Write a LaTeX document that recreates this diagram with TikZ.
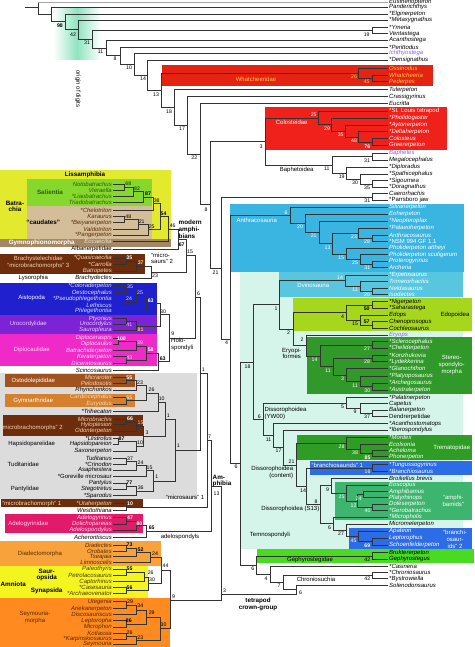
\documentclass[tikz,border=0pt]{standalone}
\usepackage{fontspec}
\setmainfont{Liberation Sans}
\usetikzlibrary{calc}
\definecolor{whr}{HTML}{E42312}
\definecolor{whtx}{HTML}{FFC445}
\definecolor{colr}{HTML}{F0201A}
\definecolor{anth}{HTML}{3AB5E2}
\definecolor{temno}{HTML}{D6F5EA}
\definecolor{dvino}{HTML}{58C6DE}
\definecolor{edop}{HTML}{A6D71C}
\definecolor{stereo}{HTML}{31992A}
\definecolor{trem}{HTML}{2F9C25}
\definecolor{branch}{HTML}{2C6CE6}
\definecolor{amphib}{HTML}{3EB56E}
\definecolor{geph}{HTML}{48DB22}
\definecolor{purp}{HTML}{8B5CF6}
\definecolor{lissa}{HTML}{E3EA2E}
\definecolor{salie}{HTML}{86D82C}
\definecolor{caud}{HTML}{D3BE99}
\definecolor{gymno}{HTML}{A48765}
\definecolor{dkbr}{HTML}{6D2D0D}
\definecolor{aist}{HTML}{2020CF}
\definecolor{uroc}{HTML}{7B23D5}
\definecolor{dipl}{HTML}{EF2AC8}
\definecolor{micro}{HTML}{DCDCDC}
\definecolor{osto}{HTML}{A1531F}
\definecolor{gymna}{HTML}{D5802C}
\definecolor{adelo}{HTML}{E31A6A}
\definecolor{diad}{HTML}{F7A23A}
\definecolor{amnio}{HTML}{F4F420}
\definecolor{seym}{HTML}{FF8A1F}
\definecolor{peach}{HTML}{F5D5B2}
\definecolor{digit}{HTML}{8EE4C0}
\definecolor{lblue}{HTML}{D9DAFF}
\definecolor{lpink}{HTML}{FFD3F2}
\definecolor{llil}{HTML}{EFC8FF}
\definecolor{brtx}{HTML}{5A2A05}
\definecolor{amtx}{HTML}{4A3C05}
\definecolor{saltx}{HTML}{2E5C12}
\definecolor{eoca}{HTML}{EDE2C8}
\definecolor{yel}{HTML}{F7CF3A}
\tikzset{
 br/.style={draw=black!80, line width=0.7pt},
 rt/.style={anchor=west, inner xsep=1.5pt, inner ysep=0.4pt, font=\fontsize{6}{6}\selectfont\itshape},
 lt/.style={anchor=east, inner xsep=1pt, inner ysep=0.4pt, font=\fontsize{6}{6}\selectfont\itshape},
 up/.style={font=\fontsize{6}{6}\selectfont\upshape},
 sv/.style={inner sep=0pt, font=\fontsize{5.2}{5}\selectfont},
 bsv/.style={font=\fontsize{5.2}{5}\selectfont\bfseries},
 grp/.style={inner sep=0pt, font=\fontsize{6}{6.6}\selectfont, align=center},
 bgrp/.style={inner sep=0pt, font=\fontsize{6.3}{6.8}\selectfont\bfseries, align=center},
}
\newcommand\taxR[4][]{\node[rt,#1] (#2) at (387.5,#3) {#4};}
\newcommand\taxL[4][]{\node[lt,#1] (#2) at (113,#3) {#4};}
\newcommand\inode[3]{\coordinate (#1) at (#2,#3);}
\newcommand\ed[3]{\draw[br] (#1) |- (#2) (#1) |- (#3);}
\newcommand\sval[4][]{\node[sv,#1] at (#2,#3) {#4};}
\begin{document}
\begin{tikzpicture}[x=1pt,y=-1pt]
\useasboundingbox (0,0) rectangle (474,647);
% ---------- background boxes ----------
\shade[left color=white, right color=white, middle color=digit] (53,9) rectangle (101,60);
\fill[whr] (161.7,65) rectangle (432.7,86);
\fill[colr] (265,107.3) rectangle (446.7,150);
\fill[anth] (230,204.3) rectangle (464,271.7);
\fill[temno] (240,271.7) rectangle (463.3,549.3);
\fill[dvino] (279.3,271.7) rectangle (463.3,296.7);
\fill[edop] (293.3,297.7) rectangle (471.7,331);
\fill[stereo] (306.7,337.3) rectangle (471.7,394);
\fill[trem] (296.7,435) rectangle (471.7,460);
\fill[branch] (310,461) rectangle (471.7,475);
\fill[amphib] (335,481.7) rectangle (471.7,520);
\fill[branch] (349,528.3) rectangle (471.7,549.3);
\fill[geph] (256.7,549.3) rectangle (474,562.7);
% left side
\fill[lissa] (0,170) rectangle (170.7,246.5);
\fill[salie] (26.7,179.3) rectangle (151.7,205.5);
\fill[caud] (26.7,205.5) rectangle (151.7,238.5);
\fill[gymno] (0,238.5) rectangle (170.7,246.5);
\fill[dkbr] (0,254.3) rectangle (145,274.3);
\fill[aist] (0,282.7) rectangle (156.7,315);
\fill[uroc] (0,315) rectangle (156.7,334);
\fill[dipl] (0,334) rectangle (156.7,366);
\fill[micro] (0,373.3) rectangle (197,499.3);
\fill[osto] (5,374.3) rectangle (135,387.3);
\fill[gymna] (5,394) rectangle (135,407.3);
\fill[dkbr] (3,415) rectangle (143.3,436);
\fill[dkbr] (1,499.3) rectangle (143.3,507.3);
\fill[adelo] (5,514.3) rectangle (143.3,533.3);
\fill[diad] (0,540.7) rectangle (161,565.7);
\fill[amnio] (0,565.7) rectangle (147.7,597.7);
\fill[seym] (0,597.7) rectangle (170,647);
% ---------- right taxa ----------
\taxR{r0}{2.4}{Eusthenopteron}
\taxR{r1}{7.2}{Panderichthys}
\taxR{r2}{13.9}{*Elginerpeton}
\taxR{r3}{20.4}{*Metaxygnathus}
\taxR{r4}{27}{*Ymeria}
\taxR{r5}{33.7}{Ventastega}
\taxR{r6}{40.3}{Acanthostega}
\taxR{r7}{47}{*Perittodus}
\taxR[purp]{r8}{53.3}{Ichthyostega}
\taxR{r9}{60.3}{*Densignathus}
\taxR[whtx]{r10}{68}{Ossinodus}
\taxR[whtx]{r11}{75}{Whatcheeria}
\taxR[whtx]{r12}{81.7}{Pederpes}
\taxR{r13}{89.7}{Tulerpeton}
\taxR{r14}{96.7}{Crassigyrinus}
\taxR{r15}{103.3}{Eucritta}
\taxR[white,up]{r16}{111}{*St. Louis tetrapod}
\taxR[white]{r17}{118.3}{*Pholidogaster}
\taxR[white]{r18}{125}{*Aytonerpeton}
\taxR[white]{r19}{131.7}{*Deltaherpeton}
\taxR[white]{r20}{138.7}{Colosteus}
\taxR[white]{r21}{145.5}{Greererpeton}
\taxR[purp]{r22}{153}{Baphetes}
\taxR{r23}{160}{Megalocephalus}
\taxR{r24}{167}{*Diploradus}
\taxR{r25}{174}{*Spathicephalus}
\taxR{r26}{180.7}{*Sigournea}
\taxR{r27}{187.3}{*Doragnathus}
\taxR{r28}{193.7}{Caerorhachis}
\taxR[up]{r29}{200.3}{*Parrsboro jaw}
\taxR[white]{r30}{207}{Silvanerpeton}
\taxR[white]{r31}{214}{Eoherpeton}
\taxR[white]{r32}{221.3}{*Neopteroplax}
\taxR[white]{r33}{228.3}{*Palaeoherpeton}
\taxR[white]{r34}{235}{Anthracosaurus}
\taxR[white,up]{r35}{241.7}{*NSM 994 GF 1.1}
\taxR[white]{r36}{248.3}{Pholiderpeton attheyi}
\taxR[white]{r37}{254.7}{Pholiderpeton scutigerum}
\taxR[white]{r38}{261}{Proterogyrinus}
\taxR[white]{r39}{267.7}{Archeria}
\taxR[white]{r40}{275}{*Erpetosaurus}
\taxR[white]{r41}{281.7}{Trimerorhachis}
\taxR[white]{r42}{288}{Neldasaurus}
\taxR[white]{r43}{294.3}{Isodectes}
\taxR{r44}{301.7}{*Nigerpeton}
\taxR{r45}{308.3}{*Saharastega}
\taxR{r46}{315}{Edops}
\taxR{r47}{321.7}{Chenoprosopus}
\taxR{r48}{328.3}{Cochleosaurus}
\taxR[purp]{r49}{335}{Eryops}
\taxR[white]{r50}{341.7}{*Sclerocephalus}
\taxR[white]{r51}{348.3}{*Cheliderpeton}
\taxR[white]{r52}{355}{*Konzhukovia}
\taxR[white]{r53}{361.7}{*Lydekkerina}
\taxR[white]{r54}{368.7}{*Glanochthon}
\taxR[white]{r55}{376.2}{*Platyoposaurus}
\taxR[white]{r56}{383.3}{*Archegosaurus}
\taxR[white]{r57}{390}{*Australerpeton}
\taxR{r58}{397.7}{*Palatinerpeton}
\taxR{r59}{403.7}{Capetus}
\taxR{r60}{410}{Balanerpeton}
\taxR[up]{r61}{416.7}{Dendrerpetidae}
\taxR{r62}{423.7}{*Acanthostomatops}
\taxR{r63}{430.3}{*Iberospondylus}
\taxR[white]{r64}{437.7}{*Mordex}
\taxR[white]{r65}{444.3}{Ecolsonia}
\taxR[white]{r66}{450.7}{Acheloma}
\taxR[white]{r67}{456.7}{Phonerpeton}
\taxR[white]{r68}{464.7}{*Tungussogyrinus}
\taxR[white]{r69}{471.3}{*Branchiosaurus}
\taxR{r70}{478.3}{Broiliellus brevis}
\taxR[white]{r71}{485}{Eoscopus}
\taxR[white]{r72}{491.5}{Amphibamus}
\taxR[white]{r73}{497.8}{Platyrhinops}
\taxR[white]{r74}{504.2}{Doleserpeton}
\taxR[white]{r75}{510.7}{*Gerobatrachus}
\taxR[white]{r76}{517.3}{*Micropholis}
\taxR{r77}{524}{Micromelerpeton}
\taxR[white]{r78}{531.5}{Apateon}
\taxR[white]{r79}{538.3}{Leptorophus}
\taxR[white]{r80}{545}{Schoenfelderpeton}
\taxR{r81}{552.7}{Bruktererpeton}
\taxR{r82}{559.3}{Gephyrostegus}
\taxR{r83}{566}{*Casineria}
\taxR{r84}{572.3}{*Chroniosaurus}
\taxR{r85}{578.7}{*Bystrowiella}
\taxR{r86}{585}{Solenodonsaurus}
% ---------- left taxa ----------
\taxL[saltx]{l0}{184}{Notobatrachus}
\taxL[saltx]{l1}{190}{Vieraella}
\taxL[saltx]{l2}{196}{*Liaobatrachus}
\taxL[saltx]{l3}{202.3}{Triadobatrachus}
\taxL[brtx]{l4}{210}{*Chelotriton}
\taxL[brtx]{l5}{216.5}{Karaurus}
\taxL[brtx]{l6}{222.7}{*Beiyanerpeton}
\taxL[brtx]{l7}{229}{Valdotriton}
\taxL[brtx]{l8}{235}{*Pangerpeton}
\taxL[eoca]{l9}{241.7}{Eocaecilia}
\taxL[up]{l10}{249.3}{Albanerpetidae}
\taxL[peach]{l11}{258.3}{*Quasicaecilia}
\taxL[peach]{l12}{264.3}{*Carrolla}
\taxL[peach]{l13}{271}{Batropetes}
\taxL{l14}{278.3}{Brachydectes}
\taxL[lblue]{l15}{286.3}{*Coloraderpeton}
\taxL[lblue]{l16}{292.7}{Oestocephalus}
\taxL[lblue]{l17}{299}{*Pseudophlegethontia}
\taxL[lblue]{l18}{305.3}{Lethiscus}
\taxL[lblue]{l19}{311.3}{Phlegethontia}
\taxL[llil]{l20}{318.7}{Ptyonius}
\taxL[llil]{l21}{324.3}{Urocordylus}
\taxL[llil]{l22}{330.3}{Sauropleura}
\taxL[lpink]{l23}{338}{Diploceraspis}
\taxL[lpink]{l24}{344.3}{Diplocaulus}
\taxL[lpink]{l25}{350.7}{Batrachiderpeton}
\taxL[lpink]{l26}{356.7}{Keraterpeton}
\taxL[lpink]{l27}{363}{Diceratosaurus}
\taxL{l28}{370.3}{Scincosaurus}
\taxL[peach]{l29}{377.3}{Micraroter}
\taxL[peach]{l30}{383.3}{Pelodosotis}
\taxL{l31}{390.3}{Rhynchonkos}
\taxL[peach]{l32}{397.3}{Cardiocephalus}
\taxL[peach]{l33}{404.3}{Euryodus}
\taxL{l34}{411.3}{*Trihecaton}
\taxL[peach]{l35}{419}{Microbrachis}
\taxL[peach]{l36}{424.7}{Hyloplesion}
\taxL[peach]{l37}{431.3}{Odonterpeton}
\taxL{l38}{438.7}{*Llistrofus}
\taxL{l39}{444.3}{Hapsidopareion}
\taxL{l40}{451.3}{Saxonerpeton}
\taxL{l41}{458}{Tuditanus}
\taxL{l42}{464}{*Crinodon}
\taxL{l43}{470.3}{Asaphestera}
\taxL[up]{l44}{476}{*Goreville microsaur}
\taxL{l45}{483}{Pantylus}
\taxL{l46}{489.3}{Stegotretus}
\taxL{l47}{495.7}{*Sparodus}
\taxL[peach]{l48}{503.5}{*Utaherpeton}
\taxL{l49}{510}{Westlothiana}
\taxL[lpink]{l50}{517.7}{Adelogyrinus}
\taxL[lpink]{l51}{524}{Dolichopareias}
\taxL[lpink]{l52}{530.3}{Adelospondylus}
\taxL{l53}{537.7}{Acherontiscus}
\taxL[brtx]{l54}{545}{Diadectes}
\taxL[brtx]{l55}{551}{Orobates}
\taxL[brtx]{l56}{556.7}{Tseajaia}
\taxL[brtx]{l57}{562.7}{Limnoscelis}
\taxL[amtx]{l58}{569}{Paleothyris}
\taxL[amtx]{l59}{575.3}{Petrolacosaurus}
\taxL[amtx]{l60}{581.7}{Captorhinus}
\taxL[amtx]{l61}{587.7}{*Casesauria}
\taxL[amtx]{l62}{593.7}{*Archaeovenator}
\taxL[brtx]{l63}{601.7}{Utegenia}
\taxL[brtx]{l64}{608.5}{Ariekanerpeton}
\taxL[brtx]{l65}{614.8}{Discosauriscus}
\taxL[brtx]{l66}{620.8}{Leptoropha}
\taxL[brtx]{l67}{627}{Microphon}
\taxL[brtx]{l68}{633.2}{Kotlassia}
\taxL[brtx]{l69}{639}{*Karpinskiosaurus}
\taxL[brtx]{l70}{644.3}{Seymouria}
% ---------- internal nodes: right ----------
\inode{root}{25}{7.1}
\inode{R0}{38.3}{7.1}\inode{R1}{51.7}{14.2}\inode{R2}{65}{21.8}\inode{R3}{78.3}{29.8}
\inode{R4}{92.3}{39.2}\inode{YV}{372.3}{30.4}\inode{R5}{106}{48}\inode{R6}{120}{55.7}
\inode{R7}{134}{64.3}\inode{R8}{147.7}{75.3}\inode{R9}{161.7}{90.4}\inode{W1}{358.3}{73.2}
\inode{W2}{372.3}{78.3}\inode{R10}{174.3}{107.5}\inode{R11}{187.3}{125.4}\inode{R12}{200}{154}
\inode{R13}{210}{204.8}\inode{C3}{265}{141.4}\inode{CO1}{318.3}{117.9}\inode{CO2}{331.7}{124.7}
\inode{CO3}{345}{131.2}\inode{CO4}{358.3}{137}\inode{CO5}{372.3}{142.1}\inode{BA}{332.7}{164.9}
\inode{BM}{372.3}{156.5}\inode{N19}{346.7}{173.1}\inode{N30}{360}{179.2}\inode{N35}{372.3}{184}
\inode{R14}{221}{268.2}\inode{CP}{372.3}{197}\inode{R15}{230}{339.4}
\inode{ANT1}{290}{215.1}\inode{ANT2}{305}{223.2}\inode{ANT3}{319.3}{232.5}\inode{ANT4}{332.7}{243.6}
\inode{ANT5}{358.3}{233.3}\inode{ANT6}{372.3}{238.3}\inode{ANT7}{346.7}{253.9}\inode{ANT8}{360}{259.4}
\inode{ANT9}{372.3}{264.3}\inode{R16}{240}{463.6}\inode{TEM}{253.3}{362.1}\inode{TA}{279.3}{304.8}
\inode{DV}{345}{280.7}\inode{DV2}{360}{286.3}\inode{DV3}{372.3}{291.2}\inode{EE}{293.3}{329}
\inode{ED}{346.7}{312.5}\inode{NS}{372.3}{305}\inode{CC}{360}{320}\inode{CC2}{372.3}{325}
\inode{EF}{306.7}{345.5}\inode{ST}{320}{355.9}\inode{SC}{372.3}{345}\inode{ST2}{333.3}{366.8}
\inode{KL}{372.3}{358.3}\inode{ST3}{346.7}{375.2}\inode{ST4}{360}{381.7}\inode{ST5}{372.3}{386.7}
\inode{DIS}{263.3}{419.4}\inode{DS1}{346.7}{403.1}\inode{DS2}{360}{408.5}\inode{DS3}{372.3}{413.3}
\inode{DS4}{273.3}{435.7}\inode{DS5}{283.3}{447.7}\inode{DS6}{296.7}{465}\inode{TR}{346.7}{443.3}
\inode{TR2}{360}{449}\inode{TR3}{372.3}{453.7}\inode{DS7}{306.7}{486.6}\inode{BR1}{372.3}{468}
\inode{DS8}{320}{504.8}\inode{DS9}{331.7}{485.7}\inode{AM}{346.7}{493}\inode{AM3}{357.5}{500.9}
\inode{AM2}{363}{494.6}\inode{AM4}{372.3}{507.4}\inode{DS10}{333.3}{523.8}\inode{DS11}{346}{530.3}
\inode{BR2}{358.3}{536.7}\inode{BR3}{372.3}{541.7}\inode{R17}{256.7}{565.2}\inode{GE}{372.3}{556}
\inode{R18}{270}{574.3}\inode{R19}{283.3}{582.6}\inode{CH}{372.3}{575.5}\inode{R20}{296.7}{589.7}
\inode{CR}{221}{594.3}
% ---------- internal nodes: left ----------
\inode{L1}{124}{187}\inode{L2}{133.3}{191.5}\inode{L3}{143.3}{196.9}\inode{L7}{153.3}{203.5}
\inode{L4}{124}{219.7}\inode{L5}{138}{224.3}\inode{L6}{148}{229.7}\inode{L8}{160}{216.6}
\inode{L9}{168.3}{229.2}\inode{L10}{178.3}{239.3}\inode{Q1}{126}{261.3}\inode{Q2}{136.7}{266.2}
\inode{Q3}{151.7}{272.3}\inode{L11}{186.7}{255.8}\inode{A1}{126}{289.5}\inode{A3}{126}{302.2}
\inode{A2}{136.7}{295.8}\inode{A4}{146.7}{303.6}\inode{U1}{126}{321.5}\inode{U2}{136.7}{325.9}
\inode{A5}{160}{314.8}\inode{D1}{118}{341.2}\inode{D2}{136.7}{346}\inode{D3}{126}{359.9}
\inode{D4}{146.7}{353}\inode{D5}{158.3}{361.7}\inode{H}{169}{338.3}\inode{LH}{195}{297}
\inode{M1}{126}{380.3}\inode{M2}{136.7}{385.3}\inode{M3}{126}{400.8}\inode{M4}{146.7}{393}
\inode{M5}{158.3}{402.2}\inode{MB1}{126}{421.9}\inode{MB2}{136.7}{426.6}\inode{HP1}{118}{441.5}
\inode{HP2}{136.7}{446.4}\inode{MB3}{143.3}{436.5}\inode{MS1}{165}{419.4}\inode{T1}{126}{461}
\inode{T2}{136.7}{465.7}\inode{T3}{146}{470.8}\inode{P1}{126}{486.2}\inode{P2}{136.7}{491}
\inode{T4}{153.3}{480.9}\inode{MS2}{175}{450.1}\inode{LM}{200}{373.6}\inode{UW}{126}{507}
\inode{LM2}{207.3}{440.3}\inode{AD1}{126}{520.9}\inode{AD2}{136.7}{525.6}\inode{AD3}{146.7}{531.7}
\inode{AMPH}{211.7}{486}\inode{DD1}{126}{548}\inode{DD2}{136.7}{552.3}\inode{DD3}{150}{557.5}
\inode{AN1}{126}{572.2}\inode{AN2}{144}{577}\inode{AN3}{126}{590.7}\inode{AN4}{148.3}{583.8}
\inode{AMN2}{161.7}{570.7}\inode{S1}{126}{605.1}\inode{S2}{136.7}{609.9}\inode{S3}{126}{623.9}
\inode{S4}{146.7}{616.9}\inode{S5}{126}{636.1}\inode{S6}{136.7}{640.2}\inode{S7}{160}{628.5}
\inode{AMN}{170}{600}
% ---------- edges: right ----------
\draw[br] (root) -- (R0);
\draw[br] (R0) |- (R1);
\draw[br] (R0) -- (R0 |- r0);
\draw[draw=black!35, line width=1.4pt] (R0 |- r0) -- (r0);
\ed{R1}{r1}{R2}\ed{R2}{r2}{R3}\ed{R3}{r3}{R4}\ed{R4}{YV}{R5}\ed{YV}{r4}{r5}
\ed{R5}{r6}{R6}\ed{R6}{r7}{R7}\ed{R7}{r8}{R8}\ed{R8}{r9}{R9}\ed{R9}{W1}{R10}
\ed{W1}{r10}{W2}\ed{W2}{r11}{r12}\ed{R10}{r13}{R11}\ed{R11}{r14}{R12}\ed{R12}{r15}{R13}
\ed{R13}{C3}{R14}\ed{C3}{CO1}{BA}\ed{CO1}{r16}{CO2}\ed{CO2}{r17}{CO3}\ed{CO3}{r18}{CO4}
\ed{CO4}{r19}{CO5}\ed{CO5}{r20}{r21}\ed{BA}{BM}{N19}\ed{BM}{r22}{r23}\ed{N19}{r24}{N30}
\ed{N30}{r25}{N35}\ed{N35}{r26}{r27}\ed{R14}{CP}{R15}\ed{CP}{r28}{r29}\ed{R15}{ANT1}{R16}
\ed{ANT1}{r30}{ANT2}\ed{ANT2}{r31}{ANT3}\ed{ANT3}{r32}{ANT4}\ed{ANT4}{ANT5}{ANT7}
\ed{ANT5}{r33}{ANT6}\ed{ANT6}{r34}{r35}\ed{ANT7}{r36}{ANT8}\ed{ANT8}{r37}{ANT9}\ed{ANT9}{r38}{r39}
\ed{R16}{TEM}{R17}\ed{TEM}{TA}{DIS}\ed{TA}{DV}{EE}\ed{DV}{r40}{DV2}\ed{DV2}{r41}{DV3}
\ed{DV3}{r42}{r43}\ed{EE}{ED}{EF}\ed{ED}{NS}{CC}\ed{NS}{r44}{r45}\ed{CC}{r46}{CC2}
\ed{CC2}{r47}{r48}\ed{EF}{r49}{ST}\ed{ST}{SC}{ST2}\ed{SC}{r50}{r51}\ed{ST2}{KL}{ST3}
\ed{KL}{r52}{r53}\ed{ST3}{r54}{ST4}\ed{ST4}{r55}{ST5}\ed{ST5}{r56}{r57}
\ed{DIS}{DS1}{DS4}\ed{DS1}{r58}{DS2}\ed{DS2}{r59}{DS3}\ed{DS3}{r60}{r61}
\ed{DS4}{r62}{DS5}\ed{DS5}{r63}{DS6}\ed{DS6}{TR}{DS7}\ed{TR}{r64}{TR2}\ed{TR2}{r65}{TR3}
\ed{TR3}{r66}{r67}\ed{DS7}{BR1}{DS8}\ed{BR1}{r68}{r69}\ed{DS8}{DS9}{DS10}\ed{DS9}{r70}{AM}
\ed{AM}{r71}{AM3}\ed{AM3}{AM2}{AM4}\ed{AM2}{r72}{r73}\ed{AM4}{r74}{r75}
\ed{DS10}{r76}{DS11}\ed{DS11}{r77}{BR2}\ed{BR2}{r78}{BR3}\ed{BR3}{r79}{r80}
\ed{R17}{GE}{R18}\ed{GE}{r81}{r82}\ed{R18}{r83}{R19}\ed{R19}{CH}{R20}\ed{CH}{r84}{r85}
\ed{R20}{r86}{CR}\ed{CR}{AMPH}{AMN}
% ---------- edges: left ----------
\ed{L1}{l0}{l1}\ed{L2}{L1}{l2}\ed{L3}{L2}{l3}\ed{L7}{L3}{l4}\ed{L4}{l5}{l6}\ed{L5}{L4}{l7}
\ed{L6}{L5}{l8}\ed{L8}{L7}{L6}\ed{L9}{L8}{l9}\ed{L10}{L9}{l10}\ed{Q1}{l11}{l12}\ed{Q2}{Q1}{l13}
\ed{Q3}{Q2}{l14}\ed{L11}{L10}{Q3}\ed{A1}{l15}{l16}\ed{A3}{l17}{l18}\ed{A2}{A1}{A3}\ed{A4}{A2}{l19}
\ed{U1}{l20}{l21}\ed{U2}{U1}{l22}\ed{A5}{A4}{U2}\ed{D1}{l23}{l24}\ed{D2}{D1}{l25}\ed{D3}{l26}{l27}
\ed{D4}{D2}{D3}\ed{D5}{D4}{l28}\ed{H}{A5}{D5}\ed{LH}{L11}{H}\ed{M1}{l29}{l30}\ed{M2}{M1}{l31}
\ed{M3}{l32}{l33}\ed{M4}{M2}{M3}\ed{M5}{M4}{l34}\ed{MB1}{l35}{l36}\ed{MB2}{MB1}{l37}
\ed{HP1}{l38}{l39}\ed{HP2}{HP1}{l40}\ed{MB3}{MB2}{HP2}\ed{MS1}{M5}{MB3}\ed{T1}{l41}{l42}
\ed{T2}{T1}{l43}\ed{T3}{T2}{l44}\ed{P1}{l45}{l46}\ed{P2}{P1}{l47}\ed{T4}{T3}{P2}\ed{MS2}{MS1}{T4}
\ed{LM}{LH}{MS2}\ed{UW}{l48}{l49}\ed{LM2}{LM}{UW}\ed{AD1}{l50}{l51}\ed{AD2}{AD1}{l52}
\ed{AD3}{AD2}{l53}\ed{AMPH}{LM2}{AD3}\ed{DD1}{l54}{l55}\ed{DD2}{DD1}{l56}\ed{DD3}{DD2}{l57}
\ed{AN1}{l58}{l59}\ed{AN2}{AN1}{l60}\ed{AN3}{l61}{l62}\ed{AN4}{AN2}{AN3}\ed{AMN2}{DD3}{AN4}
\ed{S1}{l63}{l64}\ed{S2}{S1}{l65}\ed{S3}{l66}{l67}\ed{S4}{S2}{S3}\ed{S5}{l68}{l69}\ed{S6}{S5}{l70}
\ed{S7}{S4}{S6}\ed{AMN}{AMN2}{S7}
% ---------- support values: right ----------
\sval[bsv]{60}{26}{98}\sval{73}{34.7}{42}\sval{87}{43}{31}\sval{100.5}{51.7}{11}\sval{115}{59}{8}
\sval{129}{67.7}{10}\sval{143}{79}{14}\sval{156}{95}{13}\sval{169}{111.5}{18}\sval{182}{128.5}{17}
\sval{194.3}{158}{22}\sval{206}{209.5}{8}\sval{215.5}{272.5}{21}\sval{226.5}{343}{4}\sval{236}{467}{6}
\sval{252.7}{568.5}{6}\sval{266}{578.5}{4}\sval{279}{586}{7}\sval{300.5}{592.5}{6}
\sval{366.7}{34.3}{19}
\sval[whtx]{354}{77}{26}\sval[whtx]{366.7}{82}{45}
\sval[white]{313.7}{114.3}{25}\sval[white]{327}{128.3}{29}\sval[white]{340.7}{135}{35}
\sval[white]{354}{141}{48}\sval[white,bsv]{367.3}{146.5}{76}
\sval{261}{146.5}{3}\sval{326.7}{168.5}{11}\sval{367}{160.3}{31}\sval{341.7}{177}{19}
\sval{355}{182.8}{30}\sval{367}{187.7}{35}\sval{367.3}{200.5}{31}
\sval[white]{286}{212.3}{6}\sval[white]{300}{226.7}{20}\sval[white]{313.7}{236}{21}
\sval[white]{327.5}{247.3}{13}\sval[white]{354}{237}{23}\sval[white]{367}{242}{28}
\sval[white]{341}{257.6}{15}\sval[white]{355}{263}{25}\sval[white]{367.3}{268}{31}
\sval{276}{309}{1}\sval{247.5}{366.5}{18}
\sval[white]{340}{277.3}{14}\sval[white]{355}{290}{11}\sval[white]{367}{295}{20}
\sval{288.5}{333}{2}\sval{342.5}{316.5}{4}\sval[bsv]{366.7}{308.5}{50}\sval{355}{324}{15}
\sval[bsv]{366.7}{321.5}{57}\sval{302}{339.5}{2}
\sval[white]{314.5}{359.5}{14}\sval[white]{367}{348.5}{27}\sval[white]{328}{370.5}{11}
\sval[white]{367}{362}{28}\sval[white]{342.5}{378.8}{3}\sval[white]{355}{385.3}{11}
\sval[white]{367.3}{390.3}{30}
\sval{259.3}{416.7}{6}\sval{342.5}{406.7}{5}\sval{355}{412}{9}\sval{367}{417}{37}
\sval{268.5}{439.5}{11}\sval{278.5}{451}{17}\sval{291.5}{462}{21}
\sval[white]{341.5}{447}{28}\sval[white]{355}{452.7}{38}\sval[white,bsv]{367.5}{457.3}{85}
\sval[white]{367.5}{471.6}{16}
\sval{303}{490.3}{14}\sval{316}{501.5}{8}\sval{327.5}{489.3}{9}
\sval[white]{341.5}{496.5}{25}\sval[white]{358.5}{498.5}{24}\sval[white]{353.5}{505.5}{12}
\sval[white]{367.5}{511}{40}
\sval{329.5}{527.3}{6}\sval{341}{534}{27}\sval[white]{353.5}{540.3}{45}\sval[white,bsv]{367.3}{545.3}{69}
\sval{367.3}{559.5}{42}\sval{367.3}{579}{42}
% ---------- support values: left ----------
\sval[saltx,bsv]{128.3}{184}{68}\sval[saltx,bsv]{137}{189}{82}\sval[bsv]{148}{193.5}{87}
\sval{156.7}{200.3}{38}\sval[bsv]{163.5}{213.3}{54}\sval{172.7}{226}{46}\sval[bsv]{181.7}{244.5}{67}
\sval{128.3}{216.5}{48}\sval{141.7}{221.3}{21}\sval{151.7}{226.5}{25}
\sval[white,bsv]{129.3}{258}{35}\sval[peach,bsv]{140.7}{262.7}{37}\sval{155}{275.5}{23}
\sval{190}{252}{15}\sval{198.5}{293.5}{6}
\sval[lblue]{130}{286.5}{35}\sval[lblue]{140}{292.5}{25}\sval[lblue]{129}{298.7}{24}
\sval[white,bsv]{150.7}{300.7}{63}\sval{163}{311.5}{30}
\sval[llil]{129.3}{324.3}{41}\sval[yel,bsv]{140.5}{330}{81}
\sval[white,bsv]{121.5}{338.3}{100}\sval[lpink]{140}{343}{39}\sval[lpink]{129.3}{357.3}{43}
\sval[white,bsv]{150.7}{350}{58}\sval[bsv]{162.7}{359}{63}\sval{172.7}{334}{9}
\sval{203.3}{370}{1}
\sval[white,bsv]{129.3}{377.7}{55}\sval{140}{383}{23}\sval[peach,bsv]{129.3}{397.5}{65}
\sval{151.5}{390}{26}\sval{161.7}{398.5}{10}\sval{168.3}{415.5}{1}
\sval[white,bsv]{130}{419}{66}\sval[peach]{140.5}{423}{15}\sval{147}{432.3}{3}
\sval[bsv]{121.5}{439}{87}\sval{140}{442.7}{10}\sval{178.3}{446}{1}
\sval{130}{458.3}{37}\sval{140.5}{462.5}{24}\sval{149.5}{467.7}{15}\sval{156.7}{477}{1}
\sval[bsv]{129.3}{482.5}{77}\sval{140.7}{487.5}{36}
\sval[white,bsv]{130}{503.7}{10}\sval{209.5}{436.5}{7}
\sval[white,bsv]{130}{517.3}{47}\sval[white,bsv]{139.3}{523.5}{80}\sval[bsv]{151.7}{527.7}{65}
\sval{216.5}{493.3}{13}
\sval[bsv]{129.5}{545}{73}\sval[bsv]{140.5}{549.3}{52}\sval{155}{553.5}{24}
\sval[bsv]{129.5}{569}{55}\sval{150.7}{572.3}{26}\sval[bsv]{129.5}{587.3}{56}\sval{152}{580}{30}
\sval{165.5}{566}{44}\sval{173.5}{597}{9}\sval{224.5}{591}{3}
\sval{130}{601.7}{29}\sval{140.3}{606}{34}\sval[bsv]{128.8}{620.5}{86}\sval{151.7}{613}{29}
\sval{129.5}{632.8}{26}\sval{140.3}{637.5}{23}\sval{163.5}{624.5}{30}
% ---------- group labels: right ----------
\node[grp, rotate=-90] (od) at (78,89) {origin of digits};
\node[grp, whtx] (gw) at (256,79) {Whatcheeridae};
\node[grp, white] (gc) at (291.7,122.3) {Colosteidae};
\node[grp] (gb) at (296.7,169.5) {Baphetoidea};
\node[grp, white] (ga) at (256.7,220) {Anthracosauria};
\node[grp, white] (gd) at (313.3,285) {Dvinosauria};
\node[grp] (ge) at (455,315) {Edopoidea};
\node[grp] (gef) at (291.7,353.3) {Eryopi-\\formes};
\node[grp, white] (gs) at (451.7,365) {Stereo-\\spondylo-\\morpha};
\node[grp, anchor=west, align=left] (gyw) at (264.5,413.5) {Dissorophoidea\\(YW00)};
\node[grp, white] (gt) at (451.7,447.7) {Trematopidae};
\node[grp, white, anchor=west] (gb1) at (311.5,465) {“branchiosaurids” 1};
\node[grp, anchor=east, align=right] (gdc) at (293.3,472.5) {Dissorophoidea\\(content)};
\node[grp, white] (gam) at (453.3,501) {“amphi-\\bamids”};
\node[grp, anchor=east] (gs13) at (319.5,509.3) {Dissorophoidea (S13)};
\node[grp] (gtm) at (270,535) {Temnospondyli};
\node[grp, white] (gb2) at (455,539.3) {“branchi-\\osaur-\\ids” 2};
\node[grp] (gg) at (310,559.5) {Gephyrostegidae};
\node[grp] (gch) at (316,579) {Chroniosuchia};
\node[bgrp] (gcr) at (258,604.7) {tetrapod\\crown-group};
% ---------- group labels: left ----------
\node[bgrp] (gl) at (85,175) {Lissamphibia};
\node[bgrp, saltx] (gsa) at (50,192.3) {Salientia};
\node[bgrp] (gba) at (15,206.3) {Batra-\\chia};
\node[bgrp] (gca) at (43.3,222.7) {“caudates”};
\node[bgrp, white] (ggy) at (41.7,242.5) {Gymnophionomorpha};
\node[bgrp, anchor=west, align=left] (gma) at (178.5,229.3) {modern\\amphi-\\bians};
\node[grp, peach] (gbr) at (38.3,262.5) {Brachystelechidae\\“microbrachomorphs” 3};
\node[grp, anchor=west, align=left] (gm2) at (151,258.5) {“micro-\\saurs” 2};
\node[grp] (gly) at (33.3,278.3) {Lysorophia};
\node[grp, white] (gai) at (31.7,298.3) {Aistopoda};
\node[grp, llil] (gur) at (28.3,323.5) {Urocordylidae};
\node[grp, lpink] (gdi) at (31.7,350) {Diplocaulidae};
\node[grp, anchor=west, align=left] (gho) at (171,344.5) {Holo-\\spondyli};
\node[grp, white] (gos) at (33.3,380.5) {Ostodolepididae};
\node[grp, white] (ggm) at (33.3,400.7) {Gymnarthridae};
\node[grp, peach] (gmb2) at (31.7,428) {“microbrachomorphs” 2};
\node[grp] (ghp) at (31.7,444.3) {Hapsidopareiidae};
\node[grp] (gtu) at (23.3,464) {Tuditanidae};
\node[grp] (gpa) at (25,489.3) {Pantylidae};
\node[grp] (gms1) at (185,497) {“microsaurs” 1};
\node[grp, peach] (gmb1) at (31.7,503.7) {“microbrachomorph” 1};
\node[grp, lpink] (gad) at (28.3,524) {Adelogyrinidae};
\node[grp] (gads) at (180,536.5) {adelospondyls};
\node[bgrp, anchor=west, align=left] (gamp) at (212.5,481) {Am-\\phibia};
\node[grp, brtx] (gdd) at (40,554) {Diadectomorpha};
\node[bgrp] (gsau) at (46.7,575) {Saur-\\opsida};
\node[bgrp] (gamn) at (13.3,584) {Amniota};
\node[bgrp] (gsyn) at (46.7,590.5) {Synapsida};
\node[grp, brtx] (gsey) at (35,617.2) {Seymouria-\\morpha};
\end{tikzpicture}
\end{document}
